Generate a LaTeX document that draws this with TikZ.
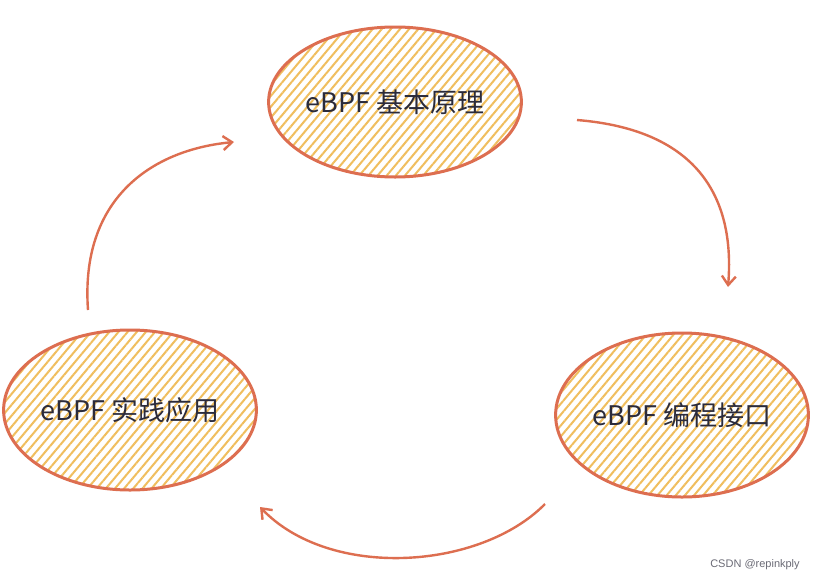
\documentclass[tikz,border=0pt]{standalone}
\usepackage{fontspec}
\newfontfamily\cjk{Noto Sans CJK SC}
\usetikzlibrary{patterns.meta,arrows.meta,shapes.geometric}
\definecolor{stroke}{HTML}{DD6E50}
\definecolor{hatch}{HTML}{F0BE5E}
\definecolor{txt}{HTML}{2B2B3B}
\begin{document}
\begin{tikzpicture}[x=1pt,y=-1pt,
  blob/.style={ellipse,draw=stroke,line width=3pt,inner sep=0pt,
    pattern={Lines[angle=50,distance=7pt,line width=2pt]},pattern color=hatch,
    font=\cjk\fontsize{27}{32}\selectfont,text=txt},
  conn/.style={draw=stroke,line width=2.4pt,-{Straight Barb[length=9pt,width=14pt,line width=2.4pt]}}]
\useasboundingbox (0,0) rectangle (828,582);
\fill[white] (0,0) rectangle (828,582);
\node[blob,minimum width=224pt,minimum height=150pt] (a) at (395,102) {eBPF 基本原理};
\node[blob,minimum width=244pt,minimum height=160pt] (c) at (130,410) {eBPF 实践应用};
\node[blob,minimum width=244pt,minimum height=164pt] (b) at (682,415) {eBPF 编程接口};
\coordinate (a1) at (577,120); \coordinate (b1) at (728,287);
\coordinate (b2) at (545,504); \coordinate (c2) at (260,507);
\coordinate (c3) at (88,310); \coordinate (a3) at (234,142);
\draw[conn] (a1) .. controls (700,130) and (735,200) .. (b1);
\draw[conn] (b2) .. controls (480,570) and (330,580) .. (c2);
\draw[conn] (c3) .. controls (80,200) and (150,150) .. (a3);
\node[font=\fontspec{Liberation Sans}\fontsize{11}{13}\selectfont,text=txt!70] (w) at (755,565) {CSDN @repinkply};
\end{tikzpicture}
\end{document}
